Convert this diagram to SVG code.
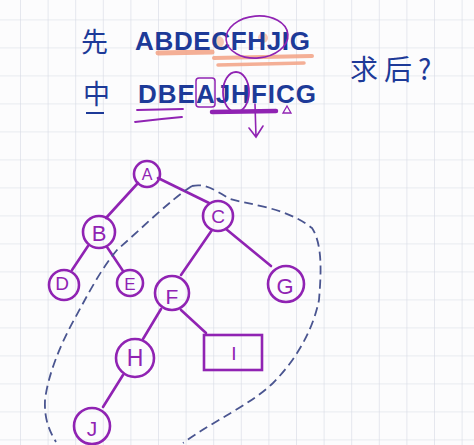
<svg xmlns="http://www.w3.org/2000/svg" width="474" height="445" viewBox="0 0 474 445">
<defs>
<pattern id="grid" x="-7.6" y="-8.6" width="27.6" height="28" patternUnits="userSpaceOnUse">
<path d="M 27.6 0 L 0 0 0 28" fill="none" stroke="#d6dae4" stroke-width="1.2"/>
</pattern>
<style>
.hw{font-family:"Liberation Sans",Arial,sans-serif;font-weight:bold;fill:#1d3a98}
.cjk{font-family:"Noto Sans CJK SC","Liberation Sans",sans-serif;fill:#1d3a98}
.node{fill:none;stroke:#9023b3;stroke-width:2.6}
.lbl{font-family:"Liberation Sans",Arial,sans-serif;fill:#9023b3;text-anchor:middle;dominant-baseline:central}
.edge{stroke:#9023b3;stroke-width:2.6;fill:none;stroke-linecap:round}
.mark{stroke:#9023b3;fill:none;stroke-linecap:round}
.hl{stroke:#f2a184;stroke-linecap:round;fill:none;opacity:0.85}
.dash{stroke:#4a5590;stroke-width:1.8;fill:none;stroke-dasharray:9 5}
</style>
</defs>
<rect width="474" height="445" fill="#fcfcfd"/>
<rect width="474" height="445" fill="url(#grid)"/>

<g id="highlights">
<path class="hl" d="M158 53 L212 52" stroke-width="5"/>
<path class="hl" d="M214 58 L312 56" stroke-width="4"/>
<path class="hl" d="M218 65 L304 63" stroke-width="3.5"/>
<circle cx="218" cy="42" r="6" fill="#f2a184" opacity="0.6"/>
<circle cx="263" cy="38" r="5" fill="#f2a184" opacity="0.6"/>
</g>

<g id="pre-row">
<text class="cjk" x="81" y="52" font-size="27">先</text>
<text class="hw" x="135" y="50" font-size="26" textLength="175" lengthAdjust="spacing">ABDECFHJIG</text>
<ellipse class="mark" cx="257" cy="37" rx="31" ry="21" stroke-width="1.6" transform="rotate(-5 257 37)"/>
</g>

<g id="in-row">
<text class="cjk" x="83" y="104" font-size="27">中</text>
<path d="M86 113 L104 113" stroke="#1d3a98" stroke-width="2"/>
<text class="hw" x="138" y="103" font-size="26" textLength="178" lengthAdjust="spacing">DBEAJHFICG</text>
<path class="mark" d="M137 110 L183 109" stroke-width="1.8"/>
<path class="mark" d="M135 122 Q160 119 182 117" stroke-width="1.8"/>
<rect class="mark" x="196" y="78" width="19" height="29" rx="3" stroke-width="1.5"/>
<ellipse class="mark" cx="236" cy="92" rx="13" ry="20" stroke-width="1.8"/>
<path class="mark" d="M212 112 L276 111" stroke-width="4.5"/>
<path class="mark" d="M255 104 L256 137 M249 128 L256 137 L263 126" stroke-width="1.6"/>
<path class="mark" d="M283 113 L287 106 L291 113 Z" stroke-width="1.3"/>
</g>

<g id="question">
<text class="cjk" x="350" y="80" font-size="28" letter-spacing="6">求后?</text>
</g>

<g id="connectors">
<path class="edge" d="M138 183 L106 218"/>
<path class="edge" d="M158 178 L209 203"/>
<path class="edge" d="M88 246 L72 270"/>
<path class="edge" d="M107 247 L123 271"/>
<path class="edge" d="M212 230 L181 275"/>
<path class="edge" d="M226 229 L271 266"/>
<path class="edge" d="M161 309 L143 339"/>
<path class="edge" d="M181 310 L206 333"/>
<path class="edge" d="M123 375 L103 407"/>
</g>

<g id="region">
<path class="dash" d="M192 186 C170 200 140 230 117 250 C100 270 85 300 75 318 C60 345 48 375 45 400 C44 420 50 432 56 442"/>
<path class="dash" d="M192 186 C205 183 215 190 230 199 C250 205 285 207 312 228 C323 245 321 275 319 300 C313 330 296 360 273 383 C250 405 215 420 183 443"/>
</g>

<g id="node-A"><circle class="node" cx="147" cy="174" r="13"/><text class="lbl" x="147" y="174" font-size="16">A</text></g>
<g id="node-B"><circle class="node" cx="99" cy="232" r="16"/><text class="lbl" x="99" y="233" font-size="22">B</text></g>
<g id="node-C"><circle class="node" cx="218" cy="216" r="15"/><text class="lbl" x="218" y="216" font-size="19">C</text></g>
<g id="node-D"><circle class="node" cx="64" cy="285" r="15"/><text class="lbl" x="62" y="283" font-size="19">D</text></g>
<g id="node-E"><circle class="node" cx="130" cy="283" r="13"/><text class="lbl" x="130" y="284" font-size="17">E</text></g>
<g id="node-F"><circle class="node" cx="172" cy="293" r="17"/><text class="lbl" x="172" y="296" font-size="21">F</text></g>
<g id="node-G"><circle class="node" cx="286" cy="284" r="18"/><text class="lbl" x="285" y="286" font-size="22">G</text></g>
<g id="node-H"><circle class="node" cx="135" cy="358" r="19"/><text class="lbl" x="135" y="358" font-size="23">H</text></g>
<g id="node-I"><rect class="node" x="204" y="335" width="58" height="35"/><text class="lbl" x="234" y="353" font-size="19">I</text></g>
<g id="node-J"><circle class="node" cx="92" cy="426" r="18"/><text class="lbl" x="92" y="428" font-size="21">J</text></g>
</svg>
